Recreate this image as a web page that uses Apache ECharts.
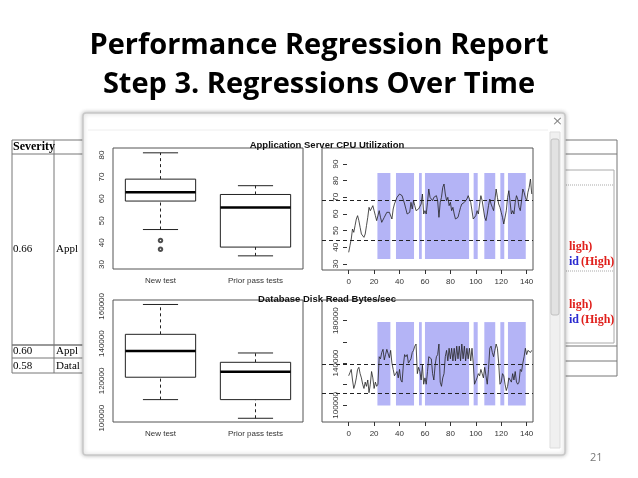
<!DOCTYPE html>
<html><head><meta charset="utf-8">
<script src="https://cdn.jsdelivr.net/npm/echarts@6/dist/echarts.min.js"></script>
<style>html,body{margin:0;padding:0;background:#fff}#c{width:638px;height:478px}</style>
</head><body><div id="c"></div>
<script>
const boxCategories = ['New test', 'Prior pass tests'];
// [min, Q1, median, Q3, max]
const cpuBoxNew = [46, 59, 63, 69, 81];
const cpuBoxPrior = [34, 38, 56, 62, 66];
const cpuOutliers = [[0, 41], [0, 37]];
const diskBoxNew = [110000, 122000, 136000, 145000, 161000];
const diskBoxPrior = [100000, 110000, 125000, 130000, 135000];
const regressionRanges = [[22.6, 32.8], [37.2, 51.4], [55.3, 57.5], [60, 94.7], [98.3, 101.5], [106.7, 115.3], [119.3, 122.4], [125.3, 139.3]];
const cpuThresholds = [68, 44.5];
const diskThresholds = [138700, 111700];
const timeTicks = [0, 20, 40, 60, 80, 100, 120, 140];
const cpuSeries = [37,41,45,51,49,53,57,59,56,52,48,49,46,48,53,58,64,62,61,65,62,59,56,56,62,58,55,56,58,59,61,60,61,60,57,63,66,67,70,71,72,72,71,70,66,63,60,59,61,67,63,68,65,62,61,63,64,66,72,60,62,60,67,75,70,69,68,70,70,71,68,58,67,70,76,78,72,68,70,65,67,62,64,60,57,56,58,61,64,66,66,67,67,69,71,70,67,67,57,56,59,62,60,66,71,68,63,58,56,60,65,69,66,64,62,68,75,70,66,64,61,58,54,55,62,70,74,67,60,62,60,67,71,69,64,62,68,75,73,70,68,73,76,81,72];
const diskSeriesK = [128,131,134,124,116,120,126,134,136,130,126,120,116,122,118,124,112,120,132,126,116,122,118,120,146,144,150,153,143,148,153,153,145,152,140,134,128,130,132,126,134,124,122,138,148,146,148,140,140,144,150,152,156,158,130,136,132,124,138,120,126,120,132,146,146,144,130,124,138,146,148,158,122,118,126,130,146,152,142,154,144,154,142,154,142,156,144,156,142,158,144,156,142,154,144,154,142,154,140,120,120,126,130,128,134,130,126,136,128,120,134,154,156,150,146,152,158,154,140,120,122,130,128,120,114,118,126,124,122,130,124,132,122,120,122,134,132,140,146,154,148,152,152,150,152];

const chart = echarts.init(document.getElementById('c'));
const lbl = {fontSize: 8, color: '#333', fontFamily: 'Liberation Sans', formatter: v => String(v)};
function boxRender(params, api) {
  const i = api.value(0);
  const v = [api.value(1), api.value(2), api.value(3), api.value(4), api.value(5)];
  const w = api.size([1, 0])[0] * 0.74;
  const p = v.map(x => api.coord([i, x]));
  const cx = p[0][0];
  const st = {stroke: '#222', lineWidth: 1, fill: null};
  const ds = {stroke: '#222', lineWidth: 1, lineDash: [3, 3]};
  return {type: 'group', children: [
    {type: 'line', shape: {x1: cx, y1: p[0][1], x2: cx, y2: p[1][1]}, style: ds},
    {type: 'line', shape: {x1: cx, y1: p[3][1], x2: cx, y2: p[4][1]}, style: ds},
    {type: 'line', shape: {x1: cx - w / 4, y1: p[0][1], x2: cx + w / 4, y2: p[0][1]}, style: st},
    {type: 'line', shape: {x1: cx - w / 4, y1: p[4][1], x2: cx + w / 4, y2: p[4][1]}, style: st},
    {type: 'rect', shape: {x: cx - w / 2, y: p[3][1], width: w, height: p[1][1] - p[3][1]}, style: {stroke: '#222', fill: '#fff', lineWidth: 1}},
    {type: 'line', shape: {x1: cx - w / 2, y1: p[2][1], x2: cx + w / 2, y2: p[2][1]}, style: {stroke: '#000', lineWidth: 2.5}}
  ]};
}
function rangeRender(lo, hi) {
  return function (params, api) {
    const a = api.coord([api.value(0), hi]);
    const b = api.coord([api.value(1), lo]);
    return {type: 'rect', shape: {x: a[0], y: a[1], width: b[0] - a[0], height: b[1] - a[1]}, style: {fill: '#b4b4f6'}};
  };
}
const grids = [
  {left: 113, top: 148, width: 190, height: 121},
  {left: 322, top: 148, width: 211, height: 122},
  {left: 113, top: 300, width: 190, height: 122},
  {left: 322, top: 300, width: 211, height: 122}
].map(g => Object.assign(g, {show: true, borderColor: '#555', borderWidth: 1, backgroundColor: 'transparent', z: 5}));
const catX = i => ({type: 'category', gridIndex: i, data: boxCategories, axisLine: {show: false, onZero: false}, axisTick: {alignWithLabel: true, length: 4, lineStyle: {color: '#333'}}, axisLabel: Object.assign({margin: 8}, lbl), z: 5});
const timeX = i => ({type: 'value', gridIndex: i, min: -21, max: 145, axisLine: {show: false, onZero: false}, splitLine: {show: false},
  axisTick: {customValues: timeTicks, length: 4, lineStyle: {color: '#333'}}, axisLabel: Object.assign({customValues: timeTicks, margin: 8}, lbl), z: 5});
const valY = (i, min, max, ticks, labels, off) => ({type: 'value', gridIndex: i, min: min, max: max, offset: off, axisLine: {show: false, onZero: false}, splitLine: {show: false},
  axisTick: {customValues: ticks, length: 4, lineStyle: {color: '#333'}}, axisLabel: Object.assign({customValues: labels, rotate: 90, margin: 7}, lbl), z: 5});
const dashLines = vals => ({symbol: 'none', silent: true, label: {show: false}, lineStyle: {type: [4, 3], color: '#222', width: 1}, data: vals.map(v => ({yAxis: v}))});
const serif = '11px "Liberation Serif"';

chart.setOption({
  animation: false,
  backgroundColor: '#fff',
  title: [
    {text: 'Performance Regression Report', left: 'center', top: 26, textStyle: {fontFamily: 'Open Sans', fontWeight: 'bold', fontSize: 29, color: '#000'}},
    {text: 'Step 3. Regressions Over Time', left: 'center', top: 65, textStyle: {fontFamily: 'Open Sans', fontWeight: 'bold', fontSize: 29, color: '#000'}},
    {text: 'Application Server CPU Utilization', left: 322, top: 135, textAlign: 'center', textStyle: {fontFamily: 'Liberation Sans', fontWeight: 'bold', fontSize: 9.5, color: '#111'}},
    {text: 'Database Disk Read Bytes/sec', left: 322, top: 289, textAlign: 'center', textStyle: {fontFamily: 'Liberation Sans', fontWeight: 'bold', fontSize: 9.5, color: '#111'}}
  ],
  graphic: [
    {type: 'rect', z: 0, shape: {x: 12, y: 140, width: 80, height: 233}, style: {fill: null, stroke: '#777', lineWidth: 1}},
    {type: 'line', z: 0, shape: {x1: 12, y1: 154, x2: 92, y2: 154}, style: {stroke: '#777'}},
    {type: 'line', z: 0, shape: {x1: 12, y1: 345, x2: 92, y2: 345}, style: {stroke: '#777', lineWidth: 1.5}},
    {type: 'line', z: 0, shape: {x1: 12, y1: 358, x2: 92, y2: 358}, style: {stroke: '#777'}},
    {type: 'line', z: 0, shape: {x1: 54, y1: 140, x2: 54, y2: 373}, style: {stroke: '#777'}},
    {type: 'text', z: 0, style: {x: 13, y: 141, text: 'Severity', font: 'bold 12px "Liberation Serif"', fill: '#000'}},
    {type: 'text', z: 0, style: {x: 13, y: 244, text: '0.66', font: serif, fill: '#000'}},
    {type: 'text', z: 0, style: {x: 56, y: 244, text: 'Appl', font: serif, fill: '#000'}},
    {type: 'text', z: 0, style: {x: 13, y: 346, text: '0.60', font: serif, fill: '#000'}},
    {type: 'text', z: 0, style: {x: 56, y: 346, text: 'Appl', font: serif, fill: '#000'}},
    {type: 'text', z: 0, style: {x: 13, y: 361, text: '0.58', font: serif, fill: '#000'}},
    {type: 'text', z: 0, style: {x: 56, y: 361, text: 'Datal', font: serif, fill: '#000'}},
    {type: 'line', z: 0, shape: {x1: 617, y1: 140, x2: 617, y2: 376}, style: {stroke: '#777'}},
    {type: 'line', z: 0, shape: {x1: 614, y1: 170, x2: 614, y2: 343}, style: {stroke: '#aaa'}},
    {type: 'line', z: 0, shape: {x1: 560, y1: 140, x2: 617, y2: 140}, style: {stroke: '#777'}},
    {type: 'line', z: 0, shape: {x1: 560, y1: 154, x2: 617, y2: 154}, style: {stroke: '#777'}},
    {type: 'line', z: 0, shape: {x1: 560, y1: 170, x2: 614, y2: 170}, style: {stroke: '#aaa'}},
    {type: 'line', z: 0, shape: {x1: 560, y1: 185, x2: 614, y2: 185}, style: {stroke: '#aaa', lineDash: [1, 1]}},
    {type: 'line', z: 0, shape: {x1: 560, y1: 271, x2: 614, y2: 271}, style: {stroke: '#aaa', lineDash: [1, 1]}},
    {type: 'line', z: 0, shape: {x1: 560, y1: 343, x2: 614, y2: 343}, style: {stroke: '#aaa'}},
    {type: 'line', z: 0, shape: {x1: 560, y1: 346, x2: 617, y2: 346}, style: {stroke: '#777'}},
    {type: 'line', z: 0, shape: {x1: 560, y1: 361, x2: 617, y2: 361}, style: {stroke: '#777'}},
    {type: 'line', z: 0, shape: {x1: 560, y1: 376, x2: 617, y2: 376}, style: {stroke: '#777'}},
    {type: 'text', z: 0, style: {x: 569, y: 241, text: 'ligh)', font: 'bold 12px "Liberation Serif"', fill: '#e0201c'}},
    {type: 'text', z: 0, style: {x: 569, y: 256, text: 'id', font: 'bold 12px "Liberation Serif"', fill: '#2a2ad0'}},
    {type: 'text', z: 0, style: {x: 581, y: 256, text: '(High)', font: 'bold 12px "Liberation Serif"', fill: '#e0201c'}},
    {type: 'text', z: 0, style: {x: 569, y: 299, text: 'ligh)', font: 'bold 12px "Liberation Serif"', fill: '#e0201c'}},
    {type: 'text', z: 0, style: {x: 569, y: 314, text: 'id', font: 'bold 12px "Liberation Serif"', fill: '#2a2ad0'}},
    {type: 'text', z: 0, style: {x: 581, y: 314, text: '(High)', font: 'bold 12px "Liberation Serif"', fill: '#e0201c'}},
    {type: 'text', z: 0, style: {x: 590, y: 452, text: '21', font: '11px "Open Sans"', fill: '#777'}},
    {type: 'rect', z: 1, shape: {x: 83, y: 113, width: 482, height: 342, r: 3}, style: {fill: '#fff', stroke: '#c8c8c8', lineWidth: 1.5, shadowBlur: 4, shadowColor: 'rgba(0,0,0,0.25)'}},
    {type: 'line', z: 1, shape: {x1: 88, y1: 130, x2: 548, y2: 130}, style: {stroke: '#eee'}},
    {type: 'text', z: 1, style: {x: 552, y: 115, text: '×', font: '13px "DejaVu Sans"', fill: '#888'}},
    {type: 'rect', z: 1, shape: {x: 550, y: 132, width: 10, height: 316}, style: {fill: '#f0f0f0', stroke: '#ddd'}},
    {type: 'rect', z: 1, shape: {x: 551, y: 139, width: 8, height: 176, r: 2}, style: {fill: '#e2e2e2', stroke: '#c0c0c0'}}
  ],
  grid: grids,
  xAxis: [catX(0), timeX(1), catX(2), timeX(3)],
  yAxis: [
    valY(0, 28, 83.2, [30, 40, 50, 60, 70, 80], [30, 40, 50, 60, 70, 80], 0),
    valY(1, 26.4, 99.6, [30, 40, 50, 60, 70, 80, 90], [30, 40, 50, 60, 70, 80, 90], -25),
    valY(2, 98000, 163400, [100000, 110000, 120000, 130000, 140000, 150000, 160000], [100000, 120000, 140000, 160000], 0),
    valY(3, 84300, 199600, [100000, 120000, 140000, 160000, 180000], [100000, 140000, 180000], -25)
  ],
  series: [
    {type: 'custom', xAxisIndex: 0, yAxisIndex: 0, renderItem: boxRender, z: 10, data: [[0].concat(cpuBoxNew), [1].concat(cpuBoxPrior)]},
    {type: 'scatter', xAxisIndex: 0, yAxisIndex: 0, symbol: 'emptyCircle', symbolSize: 3.5, itemStyle: {color: '#222', borderWidth: 0.7}, data: cpuOutliers, z: 10},
    {type: 'custom', xAxisIndex: 1, yAxisIndex: 1, renderItem: rangeRender(33, 84.6), z: 3, data: regressionRanges},
    {type: 'line', xAxisIndex: 1, yAxisIndex: 1, showSymbol: false, lineStyle: {color: '#222', width: 0.8}, z: 10,
      data: cpuSeries.map((v, i) => [i, v]), markLine: dashLines(cpuThresholds)},
    {type: 'custom', xAxisIndex: 2, yAxisIndex: 2, renderItem: boxRender, z: 10, data: [[0].concat(diskBoxNew), [1].concat(diskBoxPrior)]},
    {type: 'custom', xAxisIndex: 3, yAxisIndex: 3, renderItem: rangeRender(100000, 178700), z: 3, data: regressionRanges},
    {type: 'line', xAxisIndex: 3, yAxisIndex: 3, showSymbol: false, lineStyle: {color: '#222', width: 0.8}, z: 10,
      data: diskSeriesK.map((v, i) => [i, v * 1000]), markLine: dashLines(diskThresholds)}
  ]
});
</script></body></html>
